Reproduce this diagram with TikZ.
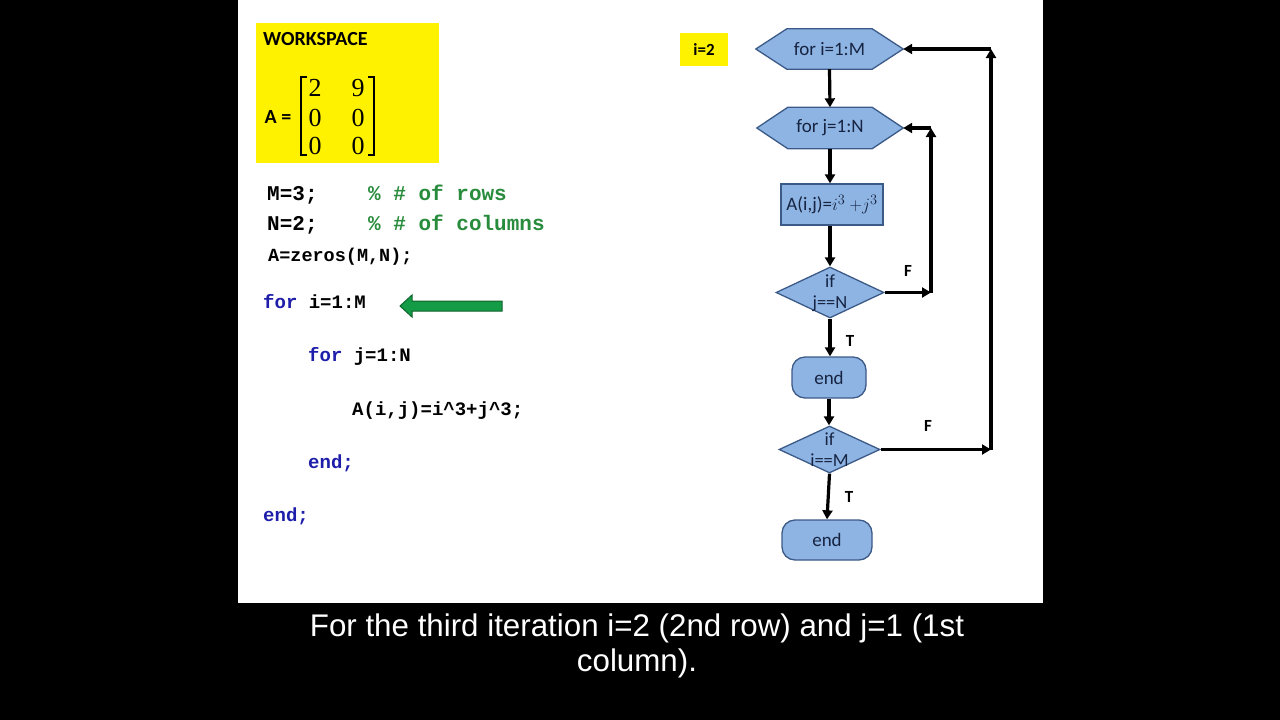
\documentclass[tikz,border=0pt]{standalone}
\usepackage{fontspec}
\setmainfont{Carlito}
\setmonofont{Liberation Mono}
\newfontfamily\subf{Liberation Sans}
\newfontfamily\serd{Liberation Serif}
\usetikzlibrary{shapes.geometric,arrows.meta}
\pgfdeclarelayer{bg}\pgfdeclarelayer{mid}\pgfsetlayers{bg,mid,main}
\definecolor{fblue}{RGB}{142,180,227}
\definecolor{fborder}{RGB}{60,90,135}
\definecolor{ftext}{RGB}{22,36,66}
\definecolor{kwblue}{RGB}{30,30,170}
\definecolor{cmgreen}{RGB}{40,140,60}
\definecolor{arrgreen}{RGB}{20,155,70}
\definecolor{arrgreend}{RGB}{15,100,45}
\tikzset{
  fc/.style={fill=fblue, draw=fborder, line width=1.3pt, text=ftext, inner sep=0pt,
    font=\fontsize{19}{21}\selectfont},
  hexn/.style={inner sep=0pt, text=ftext, font=\fontsize{19}{21}\selectfont},
  dtext/.style={inner sep=0pt, text=ftext, align=center, font=\fontsize{18.5}{21}\selectfont},
  arr/.style={line width=3.2pt, -{Triangle[length=9pt,width=10pt]}},
  lab/.style={inner sep=0pt, font=\bfseries\fontsize{17}{17}\selectfont},
  codeA/.style={anchor=base west, inner sep=0pt, font=\ttfamily\bfseries\fontsize{21}{21}\selectfont},
  codeB/.style={anchor=base west, inner sep=0pt, font=\ttfamily\bfseries\fontsize{19}{19}\selectfont},
  digit/.style={inner sep=0pt, font=\serd\fontsize{26}{26}\selectfont},
  sub/.style={anchor=base, inner sep=0pt, text=white, font=\subf\fontsize{31.3}{31.3}\selectfont},
}
\begin{document}
\begin{tikzpicture}[x=1pt,y=-1pt]
\useasboundingbox (0,0) rectangle (1280,720);
\begin{pgfonlayer}{bg}
\fill[black] (0,0) rectangle (1280,720);
\fill[white] (238,0) rectangle (1043,603);
\end{pgfonlayer}

% workspace
\node[fill=yellow, minimum width=183, minimum height=140, inner sep=0] (ws) at (347.5,93) {};
\node[anchor=west, inner sep=0, font=\bfseries\fontsize{20}{20}\selectfont] (wst) at (263,39) {WORKSPACE};
\node[inner sep=0, font=\bfseries\fontsize{20}{20}\selectfont] (aeq) at (278,117) {A =};
\draw[line width=1.8pt] (307,77) -- (301,77) -- (301,155) -- (307,155);
\draw[line width=1.8pt] (368,77) -- (374,77) -- (374,155) -- (368,155);
\node[digit] (m11) at (315,88) {2};
\node[digit] (m12) at (358,88) {9};
\node[digit] (m21) at (315,117.5) {0};
\node[digit] (m22) at (358,117.5) {0};
\node[digit] (m31) at (315,146) {0};
\node[digit] (m32) at (358,146) {0};

% code
\node[codeA] (cm) at (267,200) {M=3;};
\node[codeA, text=cmgreen] (cmc) at (368,200) {\% \# of rows};
\node[codeA] (cn) at (267,230) {N=2;};
\node[codeA, text=cmgreen] (cnc) at (368,230) {\% \# of columns};
\node[anchor=base west, inner sep=0, font=\ttfamily\bfseries\fontsize{18.5}{18.5}\selectfont] (cz) at (268,261) {A=zeros(M,N);};
\node[codeB] (f1) at (263,308) {\textcolor{kwblue}{for} i=1:M};
\node[codeB] (f2) at (308,361) {\textcolor{kwblue}{for} j=1:N};
\node[codeB] (asg) at (352,415) {A(i,j)=i\^{}3+j\^{}3;};
\node[codeB, text=kwblue] (e2c) at (308,468) {end;};
\node[codeB, text=kwblue] (e1c) at (263,521) {end;};

% green arrow
\fill[arrgreen, draw=arrgreend, line width=1pt] (502,301) -- (412,301) -- (412,295) -- (400,306) -- (412,317) -- (412,311) -- (502,311) -- cycle;

% flowchart
\node[fill=yellow, minimum width=48, minimum height=33, inner sep=0, font=\bfseries\fontsize{17}{17}\selectfont] (iv) at (704,49.5) {i=2};

\node[hexn, minimum width=147, minimum height=40] (h1) at (829.5,49) {for i=1:M};
\node[hexn, minimum width=146, minimum height=41] (h2) at (830,128) {for j=1:N};
\begin{pgfonlayer}{mid}
\path[fc] (h1.west) -- ([xshift=31pt]h1.north west) -- ([xshift=-31pt]h1.north east) -- (h1.east) -- ([xshift=-31pt]h1.south east) -- ([xshift=31pt]h1.south west) -- cycle;
\path[fc] (h2.west) -- ([xshift=31pt]h2.north west) -- ([xshift=-31pt]h2.north east) -- (h2.east) -- ([xshift=-31pt]h2.south east) -- ([xshift=31pt]h2.south west) -- cycle;
\end{pgfonlayer}

\node[fc, rectangle, minimum width=102, minimum height=41] (r) at (832,204.5) {A(i,j)=$i^3$ $+j^3$};
\node[fc, diamond, minimum width=108, minimum height=51] (d1) at (830,292.5) {};
\node[dtext] (d1t) at (830,293) {if\\j==N};
\node[fc, rectangle, rounded corners=13pt, minimum width=74, minimum height=41] (e1) at (829,377.5) {end};
\node[fc, diamond, minimum width=101, minimum height=47] (d2) at (829.5,449.5) {};
\node[dtext] (d2t) at (829.5,450) {if\\i==M};
\node[fc, rectangle, rounded corners=13pt, minimum width=90, minimum height=40] (e2) at (827,540) {end};

\draw[arr] (h1.south) -- (h2.north);
\draw[arr] (h2.south) -- (h2.south |- r.north);
\draw[arr] (d1.north |- r.south) -- (d1.north);
\draw[arr] (d1.south) -- (d1.south |- e1.north);
\draw[arr] (e1.south) -- (e1.south |- d2.north);
\draw[arr] (d2.south) -- (e2.north);

\coordinate (c1) at (931,292.5);
\coordinate (c2) at (931,128);
\draw[arr] (d1.east) -- (c1);
\draw[arr] (c1) -- (c2);
\draw[arr] (c2) -- (h2.east);

\coordinate (c3) at (991,449.5);
\coordinate (c4) at (991,49);
\draw[arr] (d2.east) -- (c3);
\draw[arr] (c3) -- (c4);
\draw[arr] (c4) -- (h1.east);

\node[lab] (lf1) at (908,271) {F};
\node[lab] (lf2) at (928,426) {F};
\node[lab] (lt1) at (850,341) {T};
\node[lab] (lt2) at (849,497) {T};

% subtitle
\node[sub] (s1) at (637,636) {For the third iteration i=2 (2nd row) and j=1 (1st};
\node[sub] (s2) at (637,671) {column).};
\end{tikzpicture}
\end{document}
